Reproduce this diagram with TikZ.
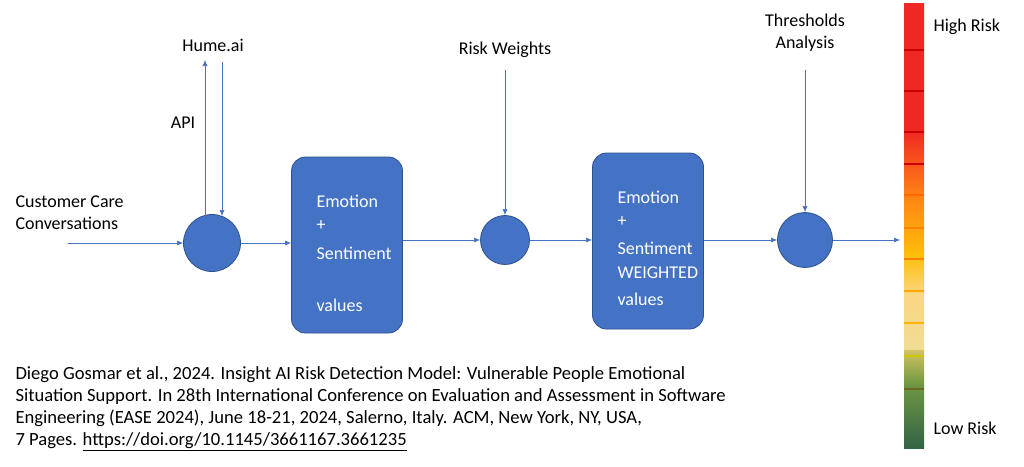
\documentclass[tikz,border=0pt]{standalone}
\usepackage{fontspec}
\setmainfont{Carlito}
\begin{document}
\begin{tikzpicture}[x=1pt,y=-1pt,
  ln/.style={draw=blue1,line width=0.6pt},
  ar/.style={ln,-{Latex[length=6pt,width=5pt]}},
  circ/.style={circle,fill=blue1,draw=blue2,line width=0.8pt,minimum size=#1},
  box/.style={rounded corners=14pt,fill=blue1,draw=blue2,line width=0.8pt,minimum width=111pt,minimum height=176pt},
  txt/.style={font=\fontsize{18}{22}\selectfont,align=left},
  btxt/.style={txt,text=white,anchor=west}]
\usetikzlibrary{arrows.meta}
\definecolor{blue1}{HTML}{4472C4}
\definecolor{blue2}{HTML}{2F528F}
\useasboundingbox (0,0) rectangle (1024,466);
\fill[white] (0,0) rectangle (1024,466);
% color bar
\shade[top color={rgb,255:red,240;green,40;blue,35},bottom color={rgb,255:red,240;green,40;blue,35}] (904,3) rectangle (924,130);
\shade[top color={rgb,255:red,240;green,40;blue,35},bottom color={rgb,255:red,255;green,130;blue,20}] (904,130) rectangle (924,195);
\shade[top color={rgb,255:red,255;green,130;blue,20},bottom color={rgb,255:red,255;green,190;blue,10}] (904,195) rectangle (924,255);
\shade[top color={rgb,255:red,255;green,190;blue,10},bottom color={rgb,255:red,250;green,215;blue,130}] (904,255) rectangle (924,295);
\shade[top color={rgb,255:red,250;green,215;blue,130},bottom color={rgb,255:red,240;green,220;blue,150}] (904,295) rectangle (924,350);
\shade[top color={rgb,255:red,210;green,195;blue,100},bottom color={rgb,255:red,110;green,150;blue,65}] (904,350) rectangle (924,385);
\shade[top color={rgb,255:red,110;green,150;blue,65},bottom color={rgb,255:red,50;green,100;blue,70}] (904,385) rectangle (924,448);
\foreach \yy/\cc in {50/red!80!black,91/red!80!black,132/red!80!black,164/red!80!black,195/orange!80!red,228/orange,259/orange,291/orange!70!yellow,323/orange!60!yellow,356/yellow!60!olive,389/olive!70!black}
  \draw[\cc,line width=1.2pt] (904,\yy) -- (924,\yy);
\node[txt,anchor=west] (hi) at (930,27) {High Risk};
\node[txt,anchor=west] (lo) at (930,428) {Low Risk};
% nodes
\node[circ=57pt] (c1) at (212,243) {};
\node[circ=49pt] (c2) at (505,240) {};
\node[circ=55pt] (c3) at (805,240) {};
\node[box] (b1) at (347,245) {};
\node[box] (b2) at (648,241) {};
\node[btxt] at (313,201) {Emotion};
\node[btxt] at (313,226) {+};
\node[btxt] at (313,253) {Sentiment};
\node[btxt] at (313,305) {values};
\node[btxt] at (614,197) {Emotion};
\node[btxt] at (614,222) {+};
\node[btxt] at (614,248) {Sentiment};
\node[btxt] at (614,273) {WEIGHTED};
\node[btxt] at (614,299) {values};
\node[txt,anchor=west] (cc) at (12,213) {Customer Care\\Conversations};
\coordinate (cin) at (68,243);
\node[txt] (hume) at (213,45) {Hume.ai};
\node[txt] (api) at (183,123) {API};
\node[txt] (rw) at (505,50) {Risk Weights};
\node[txt,align=center] (th) at (805,33) {Thresholds\\Analysis};
\coordinate (out) at (900,240);
% connectors
\draw[ar] (cin) -- (c1);
\draw[ar] (205,216) -- (205,60);
\draw[ar] (222,62) -- (222,216);
\draw[ar] (505,70) -- (c2);
\draw[ar] (805,70) -- (c3);
\draw[ar] (c1) -- (b1.west |- c1);
\draw[ar] (b1.east |- c2) -- (c2);
\draw[ar] (c2) -- (b2.west |- c2);
\draw[ar] (b2.east |- c3) -- (c3);
\draw[ar] (c3) -- (out);
% citation
\node[anchor=north west,align=left,font=\fontsize{18.6}{22}\selectfont] (cit) at (12,363) {Diego Gosmar et al., 2024. Insight AI Risk Detection Model: Vulnerable People Emotional\\Situation Support. In 28th International Conference on Evaluation and Assessment in Software\\Engineering (EASE 2024), June 18-21, 2024, Salerno, Italy. ACM, New York, NY, USA,\\7 Pages. \underline{https://doi.org/10.1145/3661167.3661235}};
\end{tikzpicture}
\end{document}
